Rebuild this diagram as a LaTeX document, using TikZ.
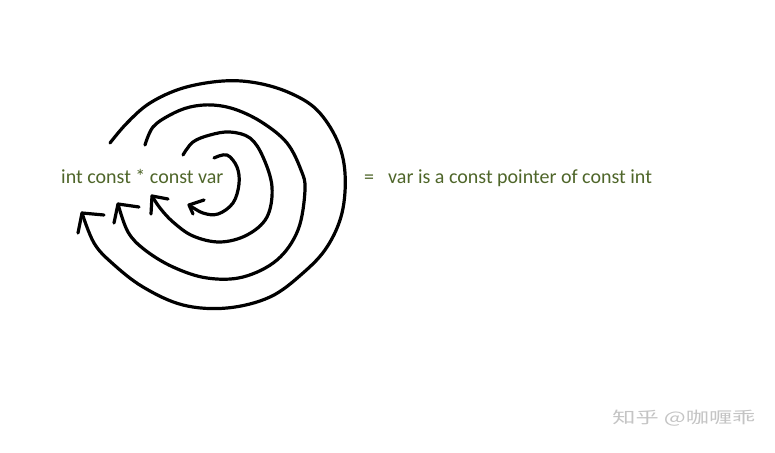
\documentclass[tikz,border=0pt]{standalone}
\usepackage{fontspec}
\setmainfont{Carlito}
\newfontfamily\cjkfont{Noto Sans CJK SC}
\definecolor{txtgreen}{RGB}{79,102,42}
\definecolor{wmgray}{RGB}{196,196,196}
\tikzset{
  spiral/.style={line width=3.2pt, line cap=round, line join=round},
  label/.style={inner sep=0pt, anchor=base west, text=txtgreen, font=\fontsize{20}{24}\selectfont},
}
\begin{document}
\begin{tikzpicture}[x=1pt,y=-1pt]
\useasboundingbox[fill=white] (0,0) rectangle (775,452);
\node[label] (decl) at (61,183) {int const * const var};
\node[label] (eq) at (364,183) {=};
\node[label] (meaning) at (388,183) {var is a const pointer of const int};
\node[inner sep=0pt, anchor=base west, text=wmgray, xscale=1.45,
  font=\cjkfont\fontsize{16}{18}\selectfont] (wm) at (612,423) {知乎 @咖喱乖};
% innermost spiral
\coordinate (s1a) at (214,158);
\coordinate (s1b) at (189,205);
\draw[spiral] plot[smooth, tension=0.6] coordinates {(s1a) (227,155) (237,167) (239,184) (233,203) (218,214) (203,213) (s1b)};
\draw[spiral] (204,200) -- (s1b) -- (193,214);
% second spiral
\coordinate (s2a) at (183,155);
\coordinate (s2b) at (152,196);
\draw[spiral] plot[smooth, tension=0.6] coordinates {(s2a) (193,142) (210,135) (230,132) (250,138) (263,157) (272,187) (267,217) (247,235) (220,242) (193,236) (173,222) (160,208) (s2b)};
\draw[spiral] (168,199) -- (s2b) -- (151,214);
% third spiral
\coordinate (s3a) at (145,145);
\coordinate (s3b) at (118,204);
\draw[spiral] plot[smooth, tension=0.6] coordinates {(s3a) (153,127) (170,115) (190,107) (213,105) (237,110) (263,123) (287,143) (301,170) (305,190) (298,230) (277,260) (243,277) (207,278) (173,267) (145,250) (128,232) (s3b)};
\draw[spiral] (139,207) -- (s3b) -- (114,223);
% outermost spiral
\coordinate (s4a) at (110,143);
\coordinate (s4b) at (82,213);
\draw[spiral] plot[smooth, tension=0.6] coordinates {(s4a) (127,123) (150,103) (183,88) (223,81) (257,83) (290,93) (317,110) (337,140) (345,173) (342,213) (327,247) (303,273) (270,297) (227,308) (183,305) (143,287) (112,263) (94,243) (s4b)};
\draw[spiral] (104,215) -- (s4b) -- (78,233);
\end{tikzpicture}
\end{document}
